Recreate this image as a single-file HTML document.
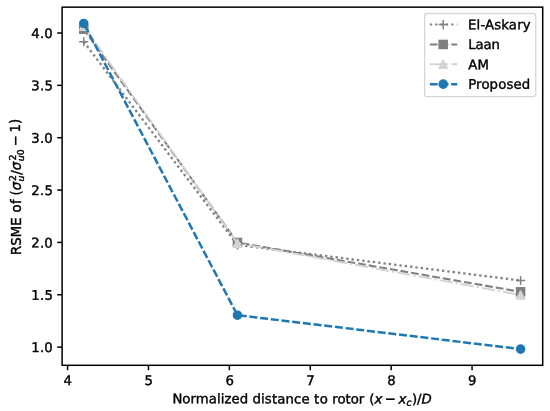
<!DOCTYPE html>
<html lang="en">
<head>
<meta charset="utf-8">
<title>RSME vs normalized distance to rotor</title>
<style>html,body{margin:0;padding:0;background:#fff}svg{display:block}</style>
</head>
<body>
<svg width="550" height="411" viewBox="0 0 550 411" font-family="'DejaVu Sans','Liberation Sans',sans-serif" font-size="13.27px" fill="#000">
<rect width="550" height="411" fill="#fff"/>
<clipPath id="ax"><rect x="62.1" y="7.15" width="480.6" height="358.15"/></clipPath>
<g stroke="#000" stroke-width="1.5">
<path d="M67.57 365.3v4.94"/>
<path d="M148.47 365.3v4.94"/>
<path d="M229.37 365.3v4.94"/>
<path d="M310.27 365.3v4.94"/>
<path d="M391.17 365.3v4.94"/>
<path d="M472.07 365.3v4.94"/>
<path d="M62.1 347.1h-4.94"/>
<path d="M62.1 294.75h-4.94"/>
<path d="M62.1 242.4h-4.94"/>
<path d="M62.1 190.05h-4.94"/>
<path d="M62.1 137.7h-4.94"/>
<path d="M62.1 85.35h-4.94"/>
<path d="M62.1 33h-4.94"/>
</g>
<g stroke="#000" stroke-width="0.4">
<g text-anchor="middle">
<text x="67.82" y="385.05" transform="rotate(0.03 67.57 385.05)">4</text>
<text x="148.72" y="385.05" transform="rotate(0.03 148.47 385.05)">5</text>
<text x="229.62" y="385.05" transform="rotate(0.03 229.37 385.05)">6</text>
<text x="310.52" y="385.05" transform="rotate(0.03 310.27 385.05)">7</text>
<text x="391.42" y="385.05" transform="rotate(0.03 391.17 385.05)">8</text>
<text x="472.32" y="385.05" transform="rotate(0.03 472.07 385.05)">9</text>
</g>
<text y="352.09" transform="rotate(0.03 32.71 352.09)"><tspan x="31.26" letter-spacing="0.21">1.0</tspan></text>
<text y="299.74" transform="rotate(0.03 32.71 299.74)"><tspan x="31.26" letter-spacing="0.35">1.5</tspan></text>
<text y="247.39" transform="rotate(0.03 32.23 247.39)"><tspan x="31.26" letter-spacing="0.21">2.0</tspan></text>
<text y="195.04" transform="rotate(0.03 32.23 195.04)"><tspan x="31.26" letter-spacing="0.35">2.5</tspan></text>
<text y="142.69" transform="rotate(0.03 32.27 142.69)"><tspan x="31.26" letter-spacing="0.21">3.0</tspan></text>
<text y="90.34" transform="rotate(0.03 32.27 90.34)"><tspan x="31.26" letter-spacing="0.35">3.5</tspan></text>
<text y="37.99" transform="rotate(0.03 31.9 37.99)"><tspan x="31.26" letter-spacing="0.21">4.0</tspan></text>
<text y="403.4" transform="rotate(0.03 300 403.4)"><tspan x="172.4" letter-spacing="0.06">Normalized</tspan> <tspan x="252.47" letter-spacing="0.14">distance</tspan> <tspan x="313.95" letter-spacing="0.64">to</tspan> <tspan x="332.31" letter-spacing="-0.04">rotor</tspan> <tspan x="369.17">(</tspan><tspan x="374.44" font-style="oblique">x</tspan><tspan x="384.88">−</tspan><tspan x="398.58" font-style="oblique">x</tspan><tspan x="406.43" dy="2.18" font-style="oblique" font-size="9.29px">c</tspan><tspan x="411.9" dy="-2.18">)</tspan><tspan x="417.08">/</tspan><tspan x="421.55" font-style="oblique">D</tspan></text>
<text transform="translate(20.6 254.8) rotate(-90)" y="0"><tspan x="-0.2" letter-spacing="0.09">RSME</tspan> <tspan x="42.37" letter-spacing="0.27">of</tspan> <tspan x="59.4">(</tspan><tspan x="64.48" font-style="oblique">σ</tspan><tspan x="73.78" dy="-5.08" font-size="9.29px">2</tspan><tspan x="73.19" dy="8.71" font-size="9.29px" font-style="oblique">u</tspan><tspan x="80.06" dy="-3.63">/</tspan><tspan x="84.48" font-style="oblique">σ</tspan><tspan x="94.23" dy="-5.08" font-size="9.29px">2</tspan><tspan x="93.64" dy="8.71" font-size="9.29px" font-style="oblique">u</tspan><tspan x="99.53" font-size="9.29px">0</tspan><tspan x="108.23" dy="-4.23">−</tspan><tspan x="122.29">1</tspan><tspan x="130.73">)</tspan></text>
</g>
<g clip-path="url(#ax)">
<path d="M83.75 41.7L237.46 244.92L520.61 280.52" fill="none" stroke="#808080" stroke-width="2.3" stroke-dasharray="2.37 2.99" stroke-dashoffset="0.07" stroke-linejoin="round"/>
<path d="M79.95 41.7H87.55M83.75 37.9V45.5" stroke="#808080" stroke-width="1.5" stroke-linecap="square" fill="none"/>
<path d="M233.66 244.92H241.26M237.46 241.12V248.72" stroke="#808080" stroke-width="1.5" stroke-linecap="square" fill="none"/>
<path d="M516.81 280.52H524.41M520.61 276.72V284.32" stroke="#808080" stroke-width="1.5" stroke-linecap="square" fill="none"/>
<path d="M83.75 29.24L237.46 242.51L520.61 291.83" fill="none" stroke="#808080" stroke-width="2.1" stroke-dasharray="7.8 2.94" stroke-dashoffset="1.25" stroke-linejoin="round"/>
<rect x="79.77" y="25.26" width="7.96" height="7.96" fill="#808080" stroke="#808080" stroke-width="1.6"/>
<rect x="233.48" y="238.53" width="7.96" height="7.96" fill="#808080" stroke="#808080" stroke-width="1.6"/>
<rect x="516.63" y="287.85" width="7.96" height="7.96" fill="#808080" stroke="#808080" stroke-width="1.6"/>
<path d="M83.75 26.31L237.46 243.25L520.61 294.97" fill="none" stroke="#d3d3d3" stroke-width="1.9" stroke-dasharray="13.17 3.04 2.23 3.04" stroke-dashoffset="1.2" stroke-linejoin="round"/>
<path d="M83.75 22.33L79.77 30.29H87.73Z" fill="#d3d3d3" stroke="#d3d3d3" stroke-width="1.6" stroke-linejoin="round"/>
<path d="M237.46 239.27L233.48 247.23H241.44Z" fill="#d3d3d3" stroke="#d3d3d3" stroke-width="1.6" stroke-linejoin="round"/>
<path d="M520.61 290.99L516.63 298.95H524.59Z" fill="#d3d3d3" stroke="#d3d3d3" stroke-width="1.6" stroke-linejoin="round"/>
<path d="M83.75 23.48L237.46 315.18" fill="none" stroke="#1f77b4" stroke-width="2.5" stroke-dasharray="7.91 2.71" stroke-dashoffset="8.47"/>
<path d="M237.46 315.18L520.61 349.1" fill="none" stroke="#1f77b4" stroke-width="2.5" stroke-dasharray="8.01 2.75" stroke-dashoffset="9.47"/>
<circle cx="83.75" cy="23.48" r="3.98" fill="#1f77b4" stroke="#1f77b4" stroke-width="1.6"/>
<circle cx="237.46" cy="315.18" r="3.98" fill="#1f77b4" stroke="#1f77b4" stroke-width="1.6"/>
<circle cx="520.61" cy="349.1" r="3.98" fill="#1f77b4" stroke="#1f77b4" stroke-width="1.6"/>
</g>
<rect x="62.1" y="7.15" width="480.6" height="358.15" fill="none" stroke="#000" stroke-width="1.5"/>
<rect x="424.6" y="13.5" width="111.2" height="83.2" rx="2.65" fill="#fff" fill-opacity="0.8" stroke="#ccc" stroke-opacity="0.8" stroke-width="1.33"/>
<path d="M429.91 24.6H457.25" fill="none" stroke="#808080" stroke-width="2" stroke-dasharray="2.13 3.24" stroke-dashoffset="0.05"/>
<path d="M439.38 24.6H446.98M443.18 20.8V28.4" stroke="#808080" stroke-width="1.5" stroke-linecap="square" fill="none"/>
<text y="29.15" transform="rotate(0.03 469.4 29.15)" stroke="#000" stroke-width="0.4"><tspan x="468.1" letter-spacing="0.13">El-Askary</tspan></text>
<path d="M429.91 44.45H457.25" fill="none" stroke="#808080" stroke-width="2.1" stroke-dasharray="7.8 2.94" stroke-dashoffset="0.15"/>
<rect x="439.2" y="40.47" width="7.96" height="7.96" fill="#808080" stroke="#808080" stroke-width="1.6"/>
<text y="48.95" transform="rotate(0.03 469.5 48.95)" stroke="#000" stroke-width="0.4"><tspan x="468.2" letter-spacing="-0.13">Laan</tspan></text>
<path d="M429.91 64.3H457.25" fill="none" stroke="#d3d3d3" stroke-width="1.9" stroke-dasharray="13.17 3.04 2.23 3.04" stroke-dashoffset="0.1"/>
<path d="M443.18 60.32L439.2 68.28H447.16Z" fill="#d3d3d3" stroke="#d3d3d3" stroke-width="1.6" stroke-linejoin="round"/>
<text y="69.2" transform="rotate(0.03 468.45 69.2)" stroke="#000" stroke-width="0.4"><tspan x="468.36" letter-spacing="0">AM</tspan></text>
<path d="M429.91 84.15H457.25" fill="none" stroke="#1f77b4" stroke-width="2.5" stroke-dasharray="8 2.74" stroke-dashoffset="0.25"/>
<circle cx="443.18" cy="84.15" r="3.98" fill="#1f77b4" stroke="#1f77b4" stroke-width="1.6"/>
<text y="88.7" transform="rotate(0.03 469.5 88.7)" stroke="#000" stroke-width="0.4"><tspan x="468.2" letter-spacing="0.13">Proposed</tspan></text>
</svg>
</body>
</html>
